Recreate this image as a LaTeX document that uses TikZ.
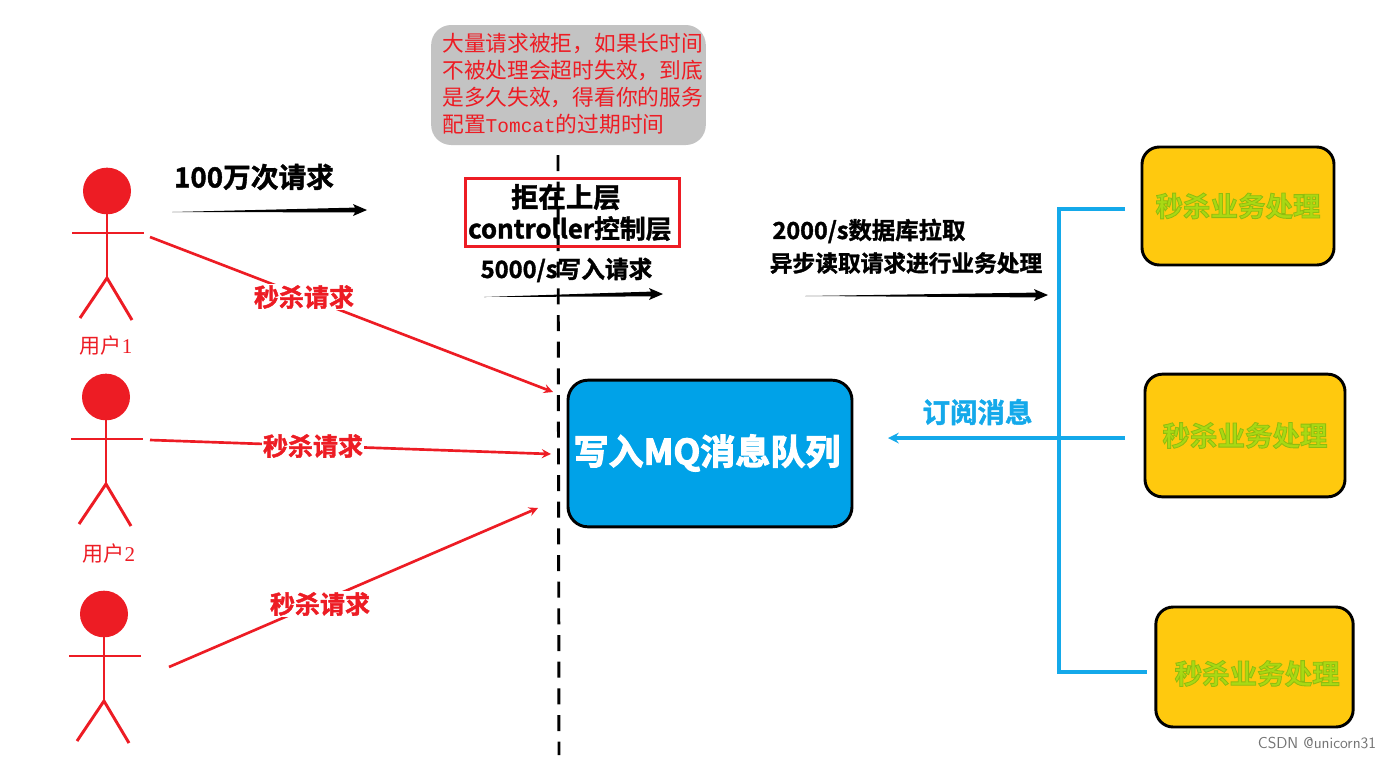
\documentclass[tikz,border=0pt]{standalone}
\usepackage{fontspec}
\setmainfont{Noto Sans CJK SC}
\newfontfamily\cjkbold[FakeBold=1.5]{Noto Sans CJK SC Bold}
\newfontfamily\cjkheavy[FakeBold=3]{Noto Sans CJK SC Bold}
\newfontfamily\cjklight{Noto Sans CJK SC}
\newfontfamily\monolat{Liberation Mono}
\newfontfamily\seriflat{Liberation Serif}
\usepackage{xcolor}
\usetikzlibrary{arrows,calc}

\definecolor{figred}{HTML}{ED1C24}
\definecolor{mqblue}{HTML}{00A2E8}
\definecolor{linkblue}{HTML}{14A9EA}
\definecolor{workyellow}{HTML}{FFC90E}
\definecolor{notegray}{HTML}{C3C3C3}

% fill colour, stroke colour, text
\newcommand{\outlined}[3]{\special{pdf:bc [#1] [#2]}#3\special{pdf:ec}}
\newcommand{\px}[1]{\fontsize{\dimexpr#1pt*3/4\relax}{\dimexpr#1pt*9/10\relax}\selectfont}
\newcommand{\taperarrow}[2]{\fill (#1) -- ($(#2)+(-12,-2.4)$) -- ($(#2)+(-14,-6)$) -- (#2) -- ($(#2)+(-14,6)$) -- ($(#2)+(-12,2.4)$) -- cycle;}

\tikzset{
  figline/.style={draw=figred,line width=2.2pt},
  reqline/.style={draw=figred,line width=2pt,->,>=stealth},
  sublink/.style={draw=linkblue,line width=2.5pt},
  blacklabel/.style={font=\cjkbold\px{25},text=black,inner sep=0pt},
  reqlabel/.style={font=\cjkbold\px{25},text=figred,fill=white,inner sep=1pt},
  workbox/.style={draw=black,line width=2.2pt,fill=workyellow,rounded corners=13pt,font=\cjkheavy\px{27.5},inner sep=0pt},
}

\begin{document}
\begin{tikzpicture}[x=0.75pt,y=-0.75pt]

\useasboundingbox (0,0) rectangle (1393,758);

\coordinate (dashtop) at (558,155);
\coordinate (dashbot) at (559,755);
\draw[black,line width=2.2pt,dash pattern=on 12pt off 8pt] (dashtop) -- (dashbot);

% the three users
\foreach \i/\x/\y in {1/107/191,2/106/397,3/104/614}
{
    \begin{scope}[shift={(\x,\y)}]
    \fill[figred] (0,0) circle [x radius=18pt, y radius=17.5pt];
    \coordinate (hip\i) at (0,87);
    \draw[figline] (0,20) -- (hip\i);
    \draw[figline] (-35,42) -- (37,42);
    \draw[figline] (-27,127) -- (hip\i) -- (25,129);
    \end{scope}
}

\node[font=\cjklight\px{21},text=figred,inner sep=0pt] (name1) at (106,346) {用户{\seriflat 1}};
\node[font=\cjklight\px{21},text=figred,inner sep=0pt] (name2) at (109,554) {用户{\seriflat 2}};

% note on top
\node[fill=notegray,rounded corners=15pt,minimum width=206pt,minimum height=90pt,inner sep=0pt] (note) at (568.5,85) {};
\node[font=\cjklight\fontsize{16.3pt}{20.3pt}\selectfont,text=figred,align=left,inner sep=0pt,anchor=west] (notetext) at (442,84)
    {大量请求被拒，如果长时间\\不被处理会超时失效，到底\\是多久失效，得看你的服务\\配置{\monolat\fontsize{14.6pt}{20.3pt}\selectfont Tomcat}的过期时间};

\node[draw=figred,line width=2.2pt,minimum width=161pt,minimum height=51pt,inner sep=0pt,align=center,font=\cjkbold\px{25.8}] (ctrl) at (572.5,212.5)
    {{\px{27.4}拒在上层\hspace*{10pt}}\\controller控制层\hspace*{4pt}};

% black labels and arrows
\node[blacklabel,font=\cjkbold\px{27.7}] (million) at (254,177) {100万次请求};
\node[blacklabel,font=\cjkbold\px{23.7}] (write) at (566.5,270) {5000/s写入请求};
\node[blacklabel,font=\cjkbold\px{23.4}] (pull) at (869,231) {2000/s数据库拉取};
\node[blacklabel,font=\cjkbold\px{22.7}] (async) at (906,263) {异步读取请求进行业务处理};

\coordinate (a0) at (172,212);
\coordinate (a1) at (367,210);
\coordinate (b0) at (484,297);
\coordinate (b1) at (663,294);
\coordinate (c0) at (805,296);
\coordinate (c1) at (1048,295);
\taperarrow{a0}{a1}
\taperarrow{b0}{b1}
\taperarrow{c0}{c1}

% queue
\node[draw=black,line width=2.2pt,fill=mqblue,rounded corners=15pt,minimum width=213pt,minimum height=110pt,inner sep=0pt,font=\cjkheavy\px{35}] (mq) at (710,453.5)
    {\raisebox{-8.25pt}[0pt][0pt]{\outlined{1 1 1}{1 1 1}{写入MQ消息队列}}\hspace*{4.5pt}};

% requests
\coordinate (r1) at (150,237);
\coordinate (r2) at (150,440);
\coordinate (r3) at (169,667);
\coordinate (q1) at (553,392);
\coordinate (q2) at (551,454);
\coordinate (q3) at (538,508);
\foreach \i in {1,2,3}
    \draw[reqline] (r\i) -- (q\i);

\node[reqlabel] (sec1) at (304,297) {秒杀请求};
\node[reqlabel] (sec2) at (313,446) {秒杀请求};
\node[reqlabel] (sec3) at (320,604) {秒杀请求};

% workers
\node[workbox,minimum width=144pt,minimum height=88.5pt] (w1) at (1238,206) {\outlined{0.66 0.85 0.08}{0.56 0.74 0.06}{秒杀业务处理}};
\node[workbox,minimum width=150pt,minimum height=92pt] (w2) at (1245,435.5) {\outlined{0.66 0.85 0.08}{0.56 0.74 0.06}{秒杀业务处理}};
\node[workbox,minimum width=148pt,minimum height=90pt] (w3) at (1254.5,667) {\hspace*{4pt}\raisebox{-12.75pt}[0pt][0pt]{\outlined{0.66 0.85 0.08}{0.56 0.74 0.06}{秒杀业务处理}}};

\coordinate (s1) at (1125,209);
\coordinate (s2) at (1125,438);
\coordinate (s3) at (1147,672);
\coordinate (t1) at (1059,209);
\coordinate (t3) at (1059,672);
\coordinate (sub) at (888,438);
\draw[sublink] (s1) -- (t1) -- (t3) -- (s3);
\draw[sublink,->,>=stealth] (s2) -- (sub);
\node[font=\cjkbold\px{27.5},text=linkblue,inner sep=0pt] (sublabel) at (977.5,412) {订阅消息};

\node[font=\sffamily\px{15.8},text=black!55,inner sep=0pt] (mark) at (1317,743) {CSDN @unicorn31};

\end{tikzpicture}
\end{document}
